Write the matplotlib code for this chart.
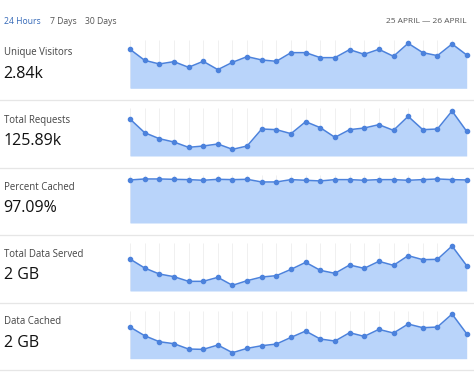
import matplotlib
matplotlib.use("Agg")
import matplotlib.pyplot as plt
import numpy as np

plt.rcParams['font.family'] = ['Open Sans', 'DejaVu Sans']

tabs = ["24 Hours", "7 Days", "30 Days"]
date_range = "25 APRIL \u2014 26 APRIL"

metric_names = ["Unique Visitors", "Total Requests", "Percent Cached", "Total Data Served", "Data Cached"]
metric_values = ["2.84k", "125.89k", "97.09%", "2 GB", "2 GB"]

unique_visitors = [117, 84, 73, 80, 63, 81, 56, 78, 95, 85, 81, 107, 107, 92, 92, 116, 102, 117, 96, 135, 107, 98, 133, 100]
total_requests = [111, 70, 52, 42, 26, 30, 36, 20, 30, 81, 79, 67, 103, 85, 56, 79, 84, 94, 77, 119, 79, 81, 135, 74]
percent_cached = [97.7, 100, 100, 99.2, 98.5, 97.0, 99.2, 98.5, 99.2, 93.2, 93.2, 98.5, 97.0, 95.5, 98.5, 98.5, 97.0, 98.5, 98.5, 97.0, 98.5, 100, 98.5, 97.7]
total_data_served = [96, 69, 51, 43, 29, 29, 41, 17, 31, 42, 46, 65, 86, 62, 53, 78, 68, 89, 77, 106, 94, 95, 135, 76]
data_cached = [95, 69, 51, 45, 29, 28, 41, 18, 31, 39, 44, 64, 83, 59, 53, 78, 67, 88, 77, 104, 93, 95, 134, 75]

series = [unique_visitors, total_requests, percent_cached, total_data_served, data_cached]
y_tops = [144, 144, 109, 144, 144]

W, H = 474, 377
fig = plt.figure(figsize=(W / 100, H / 100), dpi=100)

def fx(x):
    return x / W

def fy(y):
    return 1 - y / H

line_c = "#4c82dc"
fill_c = "#b9d4fa"
grid_c = "#f0f0f0"
sep_c = "#e6e6e6"

# header
fig.text(fx(4), fy(21.5), tabs[0], color="#3569b8", fontsize=6.2, va="center", ha="left")
fig.text(fx(49.5), fy(21.5), tabs[1], color="#555555", fontsize=6.2, va="center", ha="left")
fig.text(fx(85), fy(21.5), tabs[2], color="#555555", fontsize=6.2, va="center", ha="left")
fig.text(fx(467), fy(21.5), date_range, color="#555555", fontsize=6.0, va="center", ha="right")

row_offsets = [0, 67.3, 134.6, 201.9, 269.2]
separators = [99.5, 168.3, 235.2, 302.6, 370]
for s in separators:
    fig.add_artist(plt.Line2D([0, 1], [fy(s), fy(s)], color=sep_c, lw=0.9, transform=fig.transFigure))

x_left, x_right = 130, 466.7
plot_h = 48
bottoms = [88.3, 156, 223, 291, 358.7]

for i, (name, val, data, ytop) in enumerate(zip(metric_names, metric_values, series, y_tops)):
    off = row_offsets[i]
    fig.text(fx(4), fy(52.7 + off), name, color="#444444", fontsize=6.9, va="center", ha="left")
    fig.text(fx(3.5), fy(73.5 + off), val, color="#111111", fontsize=11.5, va="center", ha="left")

    b = bottoms[i]
    ax = fig.add_axes([fx(x_left), fy(b), fx(x_right - x_left), plot_h / H])
    x = np.arange(len(data))
    ax.vlines(x, 0, ytop, color=grid_c, lw=0.7, zorder=0)
    ax.fill_between(x, 0, data, color=fill_c, lw=0, zorder=1)
    ax.plot(x, data, color=line_c, lw=1.1, marker='o', ms=3, mec=line_c, mfc=line_c, zorder=2, clip_on=False)
    ax.set_xlim(0, len(data) - 1)
    ax.set_ylim(0, ytop)
    ax.axis('off')

fig.savefig("out.png", dpi=100, facecolor="white")
